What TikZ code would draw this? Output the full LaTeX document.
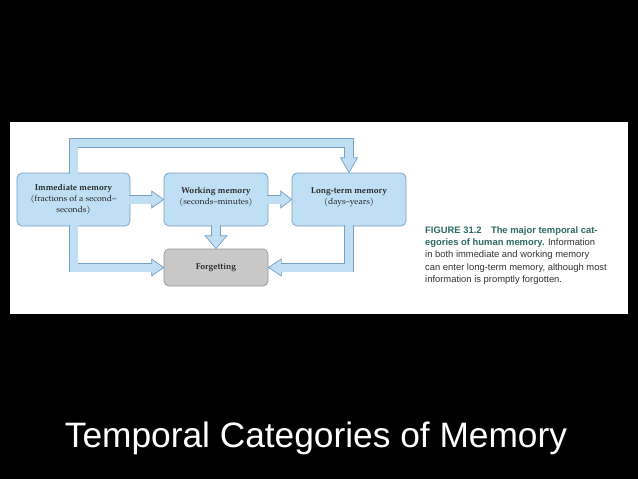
\documentclass[tikz,border=0pt]{standalone}
\usepackage{fontspec}
\setmainfont{TeX Gyre Pagella}
\newfontfamily\capf{Liberation Sans}
\usetikzlibrary{calc}
\definecolor{bfill}{RGB}{192,222,244}
\definecolor{bline}{RGB}{120,160,195}
\definecolor{gfill}{RGB}{200,200,200}
\definecolor{gline}{RGB}{150,150,150}
\definecolor{capc}{RGB}{45,105,100}
\definecolor{txtc}{RGB}{50,50,50}
\tikzset{
 box/.style={draw=bline,fill=bfill,rounded corners=5,line width=0.7,align=center,font=\fontsize{8.6}{11}\selectfont,text=black!85,minimum height=53,inner sep=0},
 shafto/.style={draw=bline,line width=9.4},
 shafti/.style={draw=bfill,line width=8},
 head/.style={draw=bline,fill=bfill,line width=0.7,line join=miter},
}
\begin{document}
\begin{tikzpicture}[x=1pt,y=-1pt]
\fill[black] (0,0) rectangle (638,479);
\useasboundingbox (0,0) rectangle (638,479);
\fill[white] (10,122) rectangle (628,314);
\node[box,minimum width=113] (imm) at (73.5,199.5) {\textbf{Immediate memory}\\(fractions of a second–\\seconds)};
\node[box,minimum width=104] (wm) at (216,199.5) {\textbf{Working memory}\\(seconds–minutes)\\[-4pt]\mbox{}};
\node[box,minimum width=114] (lt) at (349,199.5) {\textbf{Long-term memory}\\(days–years)\\[-4pt]\mbox{}};
\node[box,draw=gline,fill=gfill,minimum width=104,minimum height=37] (fg) at (216,267.5) {\textbf{Forgetting}};
\foreach \s in {shafto,shafti}{
 \draw[\s] ($(imm.north)+(0,1)$) -- ++(0,-30.5) -| ($(lt.north)+(0,-14)$);
 \draw[\s] ($(imm.east)+(-1,0)$) -- ($(wm.west)+(-11,0)$);
 \draw[\s] ($(wm.east)+(-1,0)$) -- ($(lt.west)+(-10,0)$);
 \draw[\s] ($(wm.south)+(0,-1)$) -- ($(fg.north)+(0,-12)$);
 \draw[\s] ($(imm.south)+(0,-1)$) |- ($(fg.west)+(-11,0)$);
 \draw[\s] ($(lt.south)+(0,-1)$) |- ($(fg.east)+(12,0)$);
}
\draw[head] (lt.north) -- ++(-8.5,-15) -- ++(17,0) -- cycle;
\draw[head] (wm.west) -- ++(-12,-8.5) -- ++(0,17) -- cycle;
\draw[head] (lt.west) -- ++(-11,-8.5) -- ++(0,17) -- cycle;
\draw[head] (fg.north) -- ++(-11,-13) -- ++(22,0) -- cycle;
\draw[head] (fg.west) -- ++(-12,-8.5) -- ++(0,17) -- cycle;
\draw[head] (fg.east) -- ++(13,-8.5) -- ++(0,17) -- cycle;
\draw[shafti] ($(lt.north)+(0,-16)$) -- ++(0,3);
\draw[shafti] ($(wm.west)+(-13,0)$) -- ++(3,0);
\draw[shafti] ($(lt.west)+(-12,0)$) -- ++(3,0);
\draw[shafti] ($(fg.north)+(0,-14)$) -- ++(0,3);
\draw[shafti] ($(fg.west)+(-13,0)$) -- ++(3,0);
\draw[shafti] ($(fg.east)+(14,0)$) -- ++(-3,0);
\node[anchor=north west,align=left,inner sep=0,font=\capf\fontsize{9.4}{12.4}\selectfont,text=txtc] (cap) at (425,226)
 {\textcolor{capc}{\textbf{FIGURE 31.2\quad The major temporal cat-}}\\
  \textcolor{capc}{\textbf{egories of human memory.}} Information\\
  in both immediate and working memory\\
  can enter long-term memory, although most\\
  information is promptly forgotten.};
\node[anchor=base,inner sep=0,text=white,font=\capf\fontsize{35.3}{40}\selectfont] (title) at (316,447) {Temporal Categories of Memory};
\end{tikzpicture}
\end{document}
